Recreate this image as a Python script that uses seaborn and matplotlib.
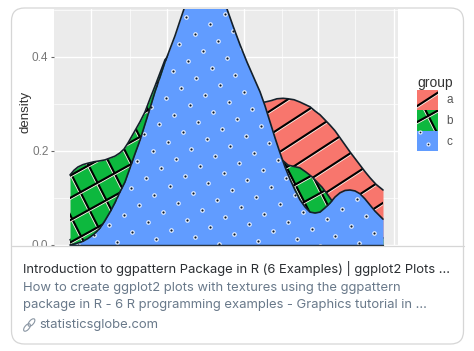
import numpy as np
import pandas as pd
import matplotlib
matplotlib.use("Agg")
import matplotlib.pyplot as plt
import seaborn as sns
from matplotlib.collections import LineCollection
from matplotlib.patches import FancyBboxPatch, Rectangle, Ellipse, Patch
from matplotlib.transforms import IdentityTransform

W, H = 474, 351

# x has no visible labels in the picture, so it is kept in picture units
x_a = [70, 100, 130, 160, 190, 220, 250, 265, 271, 277, 283, 288, 294, 300, 305, 310, 315, 320, 325, 330,
       335, 340, 345, 350, 355, 360, 365, 370, 376, 383]
dens_a = [0.011, 0.043, 0.128, 0.223, 0.270, 0.291, 0.302, 0.304, 0.307, 0.311, 0.312, 0.311, 0.309, 0.304,
          0.299, 0.294, 0.285, 0.277, 0.266, 0.255, 0.243, 0.228, 0.213, 0.198, 0.184, 0.170, 0.156, 0.143,
          0.129, 0.117]
x_b = [70, 74, 78, 83, 88, 94, 100, 105, 110, 115, 120, 124, 128, 132, 136, 140, 145, 150, 155, 160, 165,
       170, 180, 190, 200, 215, 230, 250, 270, 280, 288, 294, 300, 306, 312, 317, 322, 327, 333, 340, 350,
       365, 383]
dens_b = [0.149, 0.159, 0.166, 0.171, 0.174, 0.177, 0.179, 0.181, 0.185, 0.189, 0.196, 0.204, 0.217, 0.232,
          0.247, 0.262, 0.283, 0.311, 0.338, 0.366, 0.394, 0.406, 0.394, 0.351, 0.309, 0.266, 0.240, 0.223,
          0.202, 0.185, 0.170, 0.167, 0.164, 0.155, 0.145, 0.134, 0.123, 0.109, 0.091, 0.066, 0.043, 0.026,
          0.015]
x_c = [70, 76, 82, 88, 94, 100, 105, 110, 115, 120, 125, 130, 135, 140, 145, 150, 155, 160, 165, 170, 175,
       180, 184, 190, 197, 205, 213, 220, 227, 233, 240, 247, 254, 260, 265, 270, 275, 280, 285, 290, 295,
       300, 305, 310, 315, 320, 325, 330, 335, 340, 345, 350, 355, 360, 365, 370, 375, 383]
dens_c = [0.000, 0.003, 0.007, 0.014, 0.023, 0.036, 0.052, 0.070, 0.090, 0.113, 0.134, 0.164, 0.194, 0.223,
          0.257, 0.291, 0.326, 0.357, 0.389, 0.417, 0.445, 0.477, 0.502, 0.534, 0.551, 0.557, 0.551, 0.534,
          0.502, 0.466, 0.426, 0.389, 0.355, 0.326, 0.296, 0.262, 0.228, 0.196, 0.166, 0.140, 0.117, 0.096,
          0.081, 0.070, 0.068, 0.070, 0.079, 0.089, 0.102, 0.111, 0.116, 0.117, 0.115, 0.109, 0.098, 0.085,
          0.072, 0.055]
groups = ["a", "b", "c"]
y_ticks = [0.0, 0.2, 0.4]
title_text = "Introduction to ggpattern Package in R (6 Examples) | ggplot2 Plots ..."
desc_lines = ["How to create ggplot2 plots with textures using the ggpattern",
              "package in R - 6 R programming examples - Graphics tutorial in ..."]
site_text = "statisticsglobe.com"

colors = {"a": "#F8766D", "b": "#0DB83E", "c": "#619CFF"}

df = pd.concat([pd.DataFrame({"x": x_a, "density": dens_a, "group": "a"}),
                pd.DataFrame({"x": x_b, "density": dens_b, "group": "b"}),
                pd.DataFrame({"x": x_c, "density": dens_c, "group": "c"})])

sns.set_theme(style="darkgrid", rc={"axes.facecolor": "#EBEBEB", "grid.color": "white"})
plt.rcParams["font.family"] = ["Liberation Sans", "DejaVu Sans"]

fig = plt.figure(figsize=(W / 100, H / 100), dpi=100, facecolor="white")
ax = fig.add_axes([54 / W, (H - 255) / H, 344 / W, 246 / H])


def stripes(angle, spacing, anchor, shift=0.0):
    # lines across the whole figure, in pixels
    a = np.deg2rad(angle)
    d = np.array([np.cos(a), np.sin(a)])
    n = np.array([-d[1], d[0]])
    segs = []
    for k in range(-50, 51):
        c = np.array(anchor) + (k * spacing + shift) * n
        segs.append([c - 700 * d, c + 700 * d])
    return segs


def add_stripes(angle, spacing, anchor, clip_path=None, clip_box=None, z=2):
    # thin light edge next to the black line
    for col, lw, dz, shift in [("#FBEFE6", 0.9, 0, -1.3), ("black", 1.5, 0.1, 0.0)]:
        lc = LineCollection(stripes(angle, spacing, anchor, shift), colors=col, linewidths=lw,
                            transform=IdentityTransform(), zorder=z + dz)
        ax.add_collection(lc, autolim=False)
        if clip_path is not None:
            lc.set_clip_path(clip_path, ax.transData)
        if clip_box is not None:
            lc.set_clip_box(clip_box)


def add_dots(clip_path, z=2):
    k, m = np.meshgrid(np.arange(-30, 31), np.arange(-30, 31))
    px = (186 + 23.7 * k + 8.5 * m).ravel()
    py = (16.7 + 7.2 * k + 17.07 * m).ravel()
    keep = (py > 11) & (py < 250)
    for col, s, dz in [("#E6EFFF", 11, 0), ("#0b1a2a", 2.5, 0.1)]:
        sc = ax.scatter(px[keep], H - py[keep], s=s, c=col, linewidths=0, transform=IdentityTransform(),
                        zorder=z + dz)
        sc.set_clip_path(clip_path, ax.transData)


for i, g in enumerate(groups):
    sub = df[df["group"] == g]
    z = 2 + i * 2
    poly = ax.fill_between(sub["x"], 0, sub["density"], color=colors[g], linewidth=0, zorder=z)
    path = poly.get_paths()[0]
    if g == "a":
        add_stripes(33, 19.8, (293.3, H - 166.7), clip_path=path, z=z + 0.2)
    elif g == "b":
        add_stripes(-63, 19.5, (71.7, H - 175), clip_path=path, z=z + 0.2)
        add_stripes(29, 19.5, (70, H - 198), clip_path=path, z=z + 0.4)
    else:
        add_dots(path, z=z + 0.2)
    sns.lineplot(data=sub, x="x", y="density", color="#14202a", linewidth=1.2, estimator=None, ax=ax,
                 zorder=z + 0.8, legend=False)

ax.plot([x_c[0], x_c[-1]], [0, 0], color="#14202a", lw=1.0, zorder=7)

ax.set_xlim(54, 398)
ax.set_ylim(-0.0213, 0.502)
ax.set_xticks([91, 167, 244, 318, 394])
ax.set_xticks([130, 205, 282, 355], minor=True)
ax.set_yticks(y_ticks)
ax.set_yticks([0.1, 0.3, 0.5], minor=True)
ax.set_yticklabels(["%.1f" % v for v in y_ticks])
ax.set_xticklabels([])
ax.grid(which="major", color="white", lw=1.0)
ax.grid(which="minor", color="white", lw=0.5)
ax.set_axisbelow(True)
for s in ax.spines.values():
    s.set_visible(False)
ax.tick_params(axis="y", which="major", left=True, length=2.5, width=0.8, color="#666666",
               labelsize=8.5, labelcolor="#777777", pad=1.5)
ax.tick_params(axis="y", which="minor", left=False)
ax.tick_params(axis="x", which="both", bottom=False)
ax.set_xlabel("")
ax.set_ylabel("density", fontsize=9.5, color="#333333")
ax.yaxis.set_label_coords((32 - 54) / 344, (255 - 112) / 246)

# legend, keys get their patterns afterwards
handles = [Patch(facecolor=colors[g], edgecolor="none", label=g) for g in groups]
leg = ax.legend(handles=handles, title="group", frameon=False, fontsize=8.5, title_fontsize=10,
                loc="upper left", bbox_to_anchor=((417 - 54) / 344, (255 - 75.5) / 246), borderaxespad=0,
                borderpad=0, handlelength=1.78, handleheight=2.3, labelspacing=0, handletextpad=0.72,
                alignment="left")
leg.get_title().set_color("#333333")
for t in leg.get_texts():
    t.set_color("#555555")
leg.set_zorder(20)

fig.canvas.draw()
keys = leg.get_patches()
add_stripes(33, 19.8, (428, H - 99), clip_box=keys[0].get_window_extent(), z=21)
add_stripes(-63, 19.5, (431, H - 121), clip_box=keys[1].get_window_extent(), z=21)
add_stripes(29, 19.5, (428, H - 116), clip_box=keys[1].get_window_extent(), z=21.4)
for col, s, dz in [("#E6EFFF", 9, 0), ("#0b1a2a", 1.5, 0.1)]:
    ax.scatter([428, 420], [H - 144, H - 132], s=s, c=col, linewidths=0, transform=IdentityTransform(),
               zorder=22 + dz, clip_on=False)

# card: white lower part, border on top
fig.add_artist(Rectangle((0, 0), 1, (H - 246) / H, transform=fig.transFigure, facecolor="white",
                         edgecolor="none", zorder=10))
fig.add_artist(FancyBboxPatch((11.5, H - 344), 452, 336, boxstyle="round,pad=0,rounding_size=13",
                              transform=IdentityTransform(), facecolor="none", edgecolor="#D6D6D6",
                              linewidth=0.9, zorder=12))
fig.add_artist(plt.Line2D([11.5 / W, 463.5 / W], [(H - 246) / H] * 2, color="#D6D6D6", lw=0.9, zorder=12))

card_font = ["Inter", "DejaVu Sans"]
fig.text(23 / W, 1 - 268 / H, title_text, fontsize=9.37, color="#2B2F33", family=card_font, va="center", zorder=13)
fig.text(23 / W, 1 - 287.5 / H, desc_lines[0], fontsize=9.37, color="#69798A", family=card_font, va="center", zorder=13)
fig.text(23 / W, 1 - 305 / H, desc_lines[1], fontsize=9.37, color="#69798A", family=card_font, va="center", zorder=13)
fig.text(39 / W, 1 - 325 / H, site_text, fontsize=9.37, color="#69798A", family=card_font, va="center", zorder=13)
for cx, cy in [(27, 327.5), (31.5, 322.5)]:
    fig.add_artist(Ellipse((cx, H - cy), 9, 4.5, angle=50, transform=IdentityTransform(), facecolor="none",
                           edgecolor="#8A96A3", lw=0.8, zorder=13))

fig.savefig("out.png", dpi=100, facecolor="white")
